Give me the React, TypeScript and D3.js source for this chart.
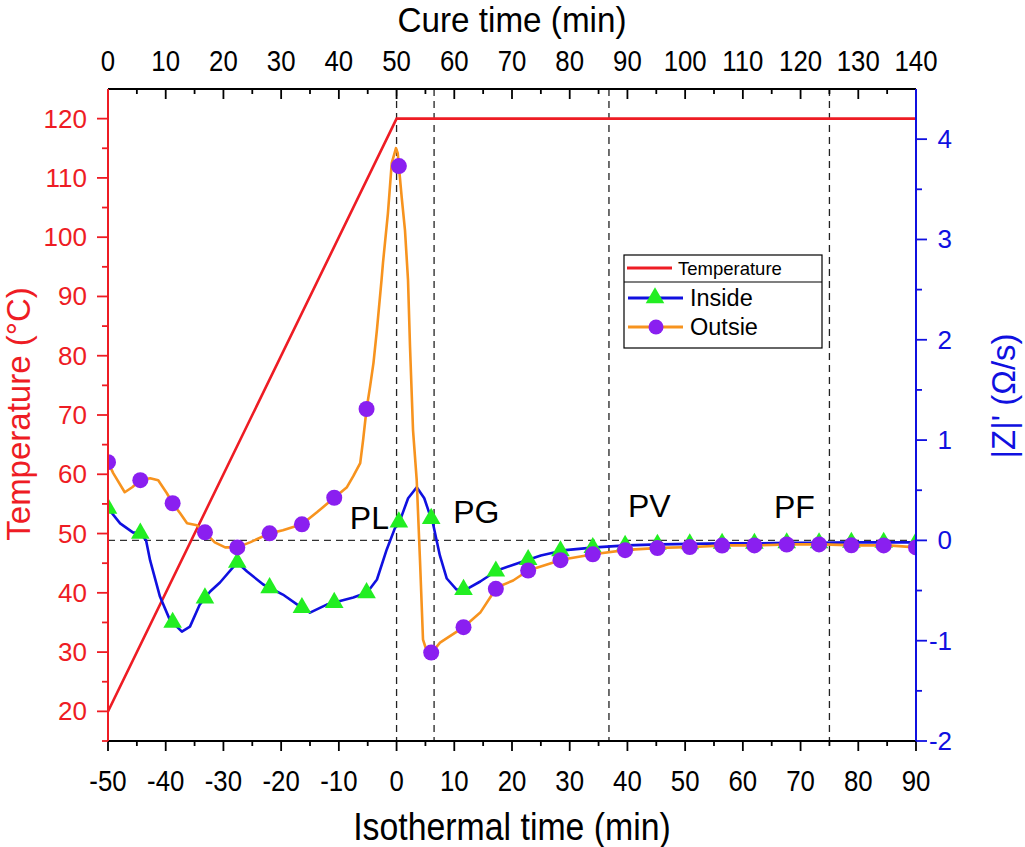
import React from "react";
import * as d3 from "d3";

// ---------- data ----------
const tempTimes = [-50, 0, 90];
const tempValues = [20, 120, 120];

const insideTimes = [-50, -47.9, -45.7, -44.4, -43.4, -42.7, -41.0, -39.3, -37.2, -35.8, -34.1, -32.3, -30.6, -27.6, -25.9, -23.1, -19.7, -16.7, -15.0, -12.1, -7.5, -5.1, -3.4, -1.7, -0.3, 0.6, 2.0, 3.5, 4.8, 5.8, 6.3, 7.5, 8.7, 10.4, 12.0, 14.5, 17.4, 21.4, 25.0, 28.8, 34.4, 39.9, 45.6, 51, 57, 62, 68, 73, 79, 85, 90];
const insideValues = [0.32, 0.17, 0.08, 0.07, 0.0, -0.2, -0.56, -0.79, -0.91, -0.86, -0.64, -0.51, -0.42, -0.22, -0.31, -0.44, -0.54, -0.66, -0.72, -0.64, -0.57, -0.52, -0.39, -0.09, 0.12, 0.2, 0.42, 0.53, 0.42, 0.25, 0.17, -0.15, -0.38, -0.49, -0.49, -0.41, -0.3, -0.22, -0.15, -0.1, -0.07, -0.05, -0.04, -0.035, -0.03, -0.03, -0.025, -0.025, -0.02, -0.02, -0.02];

const outsideTimes = [-50, -49.1, -47.1, -45.8, -44.4, -42.7, -41.3, -39.8, -38.8, -37.5, -36.3, -34.6, -33.2, -31.5, -29.7, -27.6, -25.4, -22.0, -19.7, -16.4, -13.8, -10.7, -8.6, -7.5, -6.3, -5.8, -5.2, -4.6, -4.0, -3.4, -2.6, -2.35, -1.5, -0.84, -0.1, 0.2, 0.45, 0.89, 1.46, 1.98, 2.33, 2.85, 3.49, 4.06, 4.58, 5.27, 6.09, 7.53, 11.5, 14.5, 17.35, 20.2, 22.8, 28.8, 34.4, 39.9, 45.6, 51.4, 56.9, 62.6, 68.2, 73.9, 79.4, 85.2, 90];
const outsideValues = [0.78, 0.67, 0.48, 0.53, 0.6, 0.62, 0.6, 0.47, 0.37, 0.27, 0.17, 0.15, 0.08, -0.02, -0.07, -0.07, -0.02, 0.07, 0.1, 0.16, 0.28, 0.43, 0.53, 0.64, 0.77, 1.0, 1.31, 1.53, 1.77, 2.1, 2.6, 2.77, 3.26, 3.76, 3.91, 3.86, 3.7, 3.42, 3.09, 2.6, 1.93, 1.1, 0.6, -0.2, -0.99, -1.11, -1.12, -1.02, -0.87, -0.72, -0.47, -0.4, -0.3, -0.19, -0.135, -0.095, -0.075, -0.066, -0.05, -0.05, -0.04, -0.04, -0.05, -0.05, -0.07];

const markerTimes = [-50, -44.4, -38.8, -33.2, -27.6, -22, -16.4, -10.8, -5.2, 0.4, 6, 11.6, 17.2, 22.8, 28.4, 34, 39.6, 45.2, 50.8, 56.4, 62, 67.6, 73.2, 78.8, 84.4, 90];

const phaseTimes = [0, 6.5, 36.8, 75];
const phaseLabels = ["PL", "PG", "PV", "PF"];

const isoTicks = [-50, -40, -30, -20, -10, 0, 10, 20, 30, 40, 50, 60, 70, 80, 90];
const cureTicks = [0, 10, 20, 30, 40, 50, 60, 70, 80, 90, 100, 110, 120, 130, 140];
const tempTicks = [20, 30, 40, 50, 60, 70, 80, 90, 100, 110, 120];
const zTicks = [-2, -1, 0, 1, 2, 3, 4];

const seriesNames = ["Temperature", "Inside", "Outsie"];

// ---------- layout ----------
const L = 108, R = 916, T = 89, B = 741;
const RED = "#ee1c24";
const BLUE = "#1010e0";
const ORANGE = "#f7931e";
const PURPLE = "#8a1ff0";
const GREEN = "#22ee22";
const FONT = "'Liberation Sans', Arial, sans-serif";
const NX = 0.86; // horizontal condensing for the time axes

const x = d3.scaleLinear().domain([-50, 90]).range([L, R]);
const x2 = d3.scaleLinear().domain([0, 140]).range([L, R]);
const yT = d3.scaleLinear().domain([15, 125]).range([B, T]);
const yZ = d3.scaleLinear().domain([-2, 4.5]).range([B, T]);

function zip(ts: number[], vs: number[]) {
  return ts.map((t, i) => [t, vs[i]] as [number, number]);
}

const tri = d3.symbol().type(d3.symbolTriangle).size(150)();

export default function App() {
  const lineT = d3.line<[number, number]>().x(d => x(d[0])).y(d => yT(d[1]));
  const lineZ = d3.line<[number, number]>().x(d => x(d[0])).y(d => yZ(d[1]));
  const inside = zip(insideTimes, insideValues);
  const outside = zip(outsideTimes, outsideValues);
  const interpIn = d3.scaleLinear().domain(insideTimes).range(insideValues);
  const interpOut = d3.scaleLinear().domain(outsideTimes).range(outsideValues);

  const minorIso = d3.range(-45, 90, 10);
  const minorCure = d3.range(5, 140, 10);
  const minorTemp = d3.range(15, 125, 10);
  const minorZ = d3.range(-1.5, 4.5, 1);

  const phaseLabelPos = [
    [-8.1, 0.11],
    [9.8, 0.17],
    [40.1, 0.23],
    [65.4, 0.22],
  ];

  return (
    <svg width={1025} height={847} style={{ position: "absolute", left: 0, top: 0, background: "#fff" }}>
      <defs>
        <clipPath id="plotClip">
          <rect x={L} y={T} width={R - L} height={B - T} />
        </clipPath>
      </defs>
      <rect x={0} y={0} width={1025} height={847} fill="#fff" />

      {/* reference dashed lines */}
      {phaseTimes.map((t, i) => (
        <line key={"v" + i} x1={x(t)} x2={x(t)} y1={T} y2={B} stroke="#222" strokeWidth={1.3} strokeDasharray="7,5" />
      ))}
      <line x1={L} x2={R} y1={yZ(0)} y2={yZ(0)} stroke="#333" strokeWidth={1.3} strokeDasharray="7,5" />

      <g clipPath="url(#plotClip)">
        <path d={lineT(zip(tempTimes, tempValues)) || ""} fill="none" stroke={RED} strokeWidth={2.6} />
        <path d={lineZ(inside) || ""} fill="none" stroke={BLUE} strokeWidth={2.6} strokeLinejoin="round" />
        {markerTimes.map((t, i) => (
          <path key={"tr" + i} d={tri || ""} transform={`translate(${x(t)},${yZ(interpIn(t))})`} fill={GREEN} />
        ))}
        <path d={lineZ(outside) || ""} fill="none" stroke={ORANGE} strokeWidth={2.6} strokeLinejoin="round" />
        {markerTimes.map((t, i) => (
          <circle key={"ci" + i} cx={x(t)} cy={yZ(interpOut(t))} r={8} fill={PURPLE} />
        ))}
      </g>

      {/* phase labels */}
      {phaseLabels.map((s, i) => (
        <text key={s} x={x(phaseLabelPos[i][0])} y={yZ(phaseLabelPos[i][1])} fontFamily={FONT} fontSize={32} fill="#000">{s}</text>
      ))}

      {/* bottom axis */}
      <line x1={L} x2={R} y1={B} y2={B} stroke="#000" strokeWidth={2} />
      {isoTicks.map(t => (
        <g key={"bt" + t}>
          <line x1={x(t)} x2={x(t)} y1={B} y2={B + 10} stroke="#000" strokeWidth={1.8} />
          <text transform={`translate(${x(t)},791) scale(${NX},1)`} textAnchor="middle" fontFamily={FONT} fontSize={30} fill="#000">{t}</text>
        </g>
      ))}
      {minorIso.map(t => (
        <line key={"bm" + t} x1={x(t)} x2={x(t)} y1={B} y2={B + 5} stroke="#000" strokeWidth={1.8} />
      ))}
      <text transform={`translate(${(L + R) / 2},840) scale(0.89,1)`} textAnchor="middle" fontFamily={FONT} fontSize={38} fill="#000">Isothermal time (min)</text>

      {/* top axis */}
      <line x1={L} x2={R} y1={T} y2={T} stroke="#000" strokeWidth={2} />
      {cureTicks.map(t => (
        <g key={"tt" + t}>
          <line x1={x2(t)} x2={x2(t)} y1={T} y2={T + 10} stroke="#000" strokeWidth={1.8} />
          <text transform={`translate(${x2(t)},71) scale(${NX},1)`} textAnchor="middle" fontFamily={FONT} fontSize={30} fill="#000">{t}</text>
        </g>
      ))}
      {minorCure.map(t => (
        <line key={"tm" + t} x1={x2(t)} x2={x2(t)} y1={T} y2={T + 5} stroke="#000" strokeWidth={1.8} />
      ))}
      <text transform={`translate(${(L + R) / 2},32) scale(0.95,1)`} textAnchor="middle" fontFamily={FONT} fontSize={35} fill="#000">Cure time (min)</text>

      {/* left axis */}
      <line x1={L} x2={L} y1={T} y2={B} stroke={RED} strokeWidth={2} />
      {tempTicks.map(t => (
        <g key={"lt" + t}>
          <line x1={L - 11} x2={L} y1={yT(t)} y2={yT(t)} stroke={RED} strokeWidth={1.8} />
          <text x={87} y={yT(t) + 9} textAnchor="end" fontFamily={FONT} fontSize={26} fill={RED}>{t}</text>
        </g>
      ))}
      {minorTemp.map(t => (
        <line key={"lm" + t} x1={L - 6} x2={L} y1={yT(t)} y2={yT(t)} stroke={RED} strokeWidth={1.8} />
      ))}
      <text transform={`translate(30,414) rotate(-90)`} textAnchor="middle" fontFamily={FONT} fontSize={33} fill={RED}>Temperature (°C)</text>

      {/* right axis */}
      <line x1={R} x2={R} y1={T} y2={B} stroke={BLUE} strokeWidth={2} />
      {zTicks.map(t => (
        <g key={"rt" + t}>
          <line x1={R} x2={R + 11} y1={yZ(t)} y2={yZ(t)} stroke={BLUE} strokeWidth={1.8} />
          <text x={952} y={yZ(t) + 9} textAnchor="end" fontFamily={FONT} fontSize={26} fill={BLUE}>{t}</text>
        </g>
      ))}
      {minorZ.map(t => (
        <line key={"rm" + t} x1={R} x2={R + 6} y1={yZ(t)} y2={yZ(t)} stroke={BLUE} strokeWidth={1.8} />
      ))}
      <text transform={`translate(1015,396) rotate(-90)`} textAnchor="middle" fontFamily={FONT} fontSize={33} fill={BLUE}>|Z|' (Ω/s)</text>

      {/* legend */}
      <g>
        <rect x={624} y={255} width={198} height={93} fill="#fff" stroke="#000" strokeWidth={1.2} />
        <line x1={624} x2={822} y1={282} y2={282} stroke="#000" strokeWidth={1.2} />
        <line x1={627} x2={672} y1={268} y2={268} stroke={RED} strokeWidth={3} />
        <text x={678} y={275} fontFamily={FONT} fontSize={18.5} fill="#000">{seriesNames[0]}</text>
        <line x1={628} x2={683} y1={298} y2={298} stroke={BLUE} strokeWidth={3} />
        <path d={tri || ""} transform="translate(655,298)" fill={GREEN} />
        <text x={690} y={306} fontFamily={FONT} fontSize={23.5} fill="#000">{seriesNames[1]}</text>
        <line x1={628} x2={683} y1={327} y2={327} stroke={ORANGE} strokeWidth={3} />
        <circle cx={656} cy={327} r={7.5} fill={PURPLE} />
        <text x={690} y={335} fontFamily={FONT} fontSize={23.5} fill="#000">{seriesNames[2]}</text>
      </g>
    </svg>
  );
}
